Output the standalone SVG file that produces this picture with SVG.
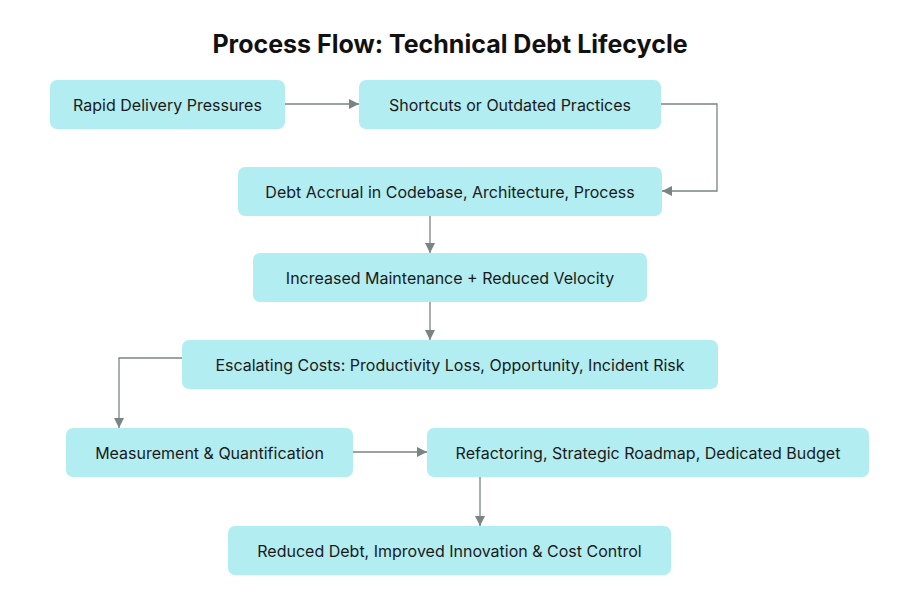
<svg xmlns="http://www.w3.org/2000/svg" width="900" height="600" viewBox="0 0 900 600">
<style>
.n{fill:#b2edf1}
.t{font-family:Inter,"Noto Sans",sans-serif;font-size:16px;fill:#1a1a1a;text-anchor:middle;dominant-baseline:central}
.c{fill:none;stroke:#7a8484;stroke-width:1.3;marker-end:url(#a)}
</style>
<defs><marker id="a" viewBox="0 0 10 10" refX="10" refY="5" markerWidth="10" markerHeight="10" markerUnits="userSpaceOnUse" orient="auto"><path d="M0,0L10,5L0,10z" fill="#7a8484"/></marker></defs>
<rect width="900" height="600" fill="#fff"/>
<text x="450" y="44" style="font-family:Inter,'Noto Sans',sans-serif;font-size:25px;font-weight:bold;text-anchor:middle;dominant-baseline:central;fill:#111">Process Flow: Technical Debt Lifecycle</text>
<g id="connectors">
<path class="c" d="M285,104H359"/>
<path class="c" d="M661,104H717V191H662"/>
<path class="c" d="M430,216V253"/>
<path class="c" d="M430,302V340"/>
<path class="c" d="M182,358H119V428"/>
<path class="c" d="M353,452H427"/>
<path class="c" d="M480,477V526"/>
</g>
<g id="n1"><rect class="n" x="50" y="80" width="235" height="49" rx="7"/><text class="t" x="167.5" y="104.5">Rapid Delivery Pressures</text></g>
<g id="n2"><rect class="n" x="359" y="80" width="302" height="49" rx="7"/><text class="t" x="510" y="104.5">Shortcuts or Outdated Practices</text></g>
<g id="n3"><rect class="n" x="238" y="167" width="424" height="49" rx="7"/><text class="t" x="450" y="191.5">Debt Accrual in Codebase, Architecture, Process</text></g>
<g id="n4"><rect class="n" x="253" y="253" width="394" height="49" rx="7"/><text class="t" x="450" y="277.5">Increased Maintenance + Reduced Velocity</text></g>
<g id="n5"><rect class="n" x="182" y="340" width="536" height="49" rx="7"/><text class="t" x="450" y="364.5">Escalating Costs: Productivity Loss, Opportunity, Incident Risk</text></g>
<g id="n6"><rect class="n" x="66" y="428" width="287" height="49" rx="7"/><text class="t" x="209.5" y="452.5">Measurement &amp; Quantification</text></g>
<g id="n7"><rect class="n" x="427" y="428" width="442" height="49" rx="7"/><text class="t" x="648" y="452.5">Refactoring, Strategic Roadmap, Dedicated Budget</text></g>
<g id="n8"><rect class="n" x="228" y="526" width="443" height="49" rx="7"/><text class="t" x="449.5" y="550.5">Reduced Debt, Improved Innovation &amp; Cost Control</text></g>
</svg>
